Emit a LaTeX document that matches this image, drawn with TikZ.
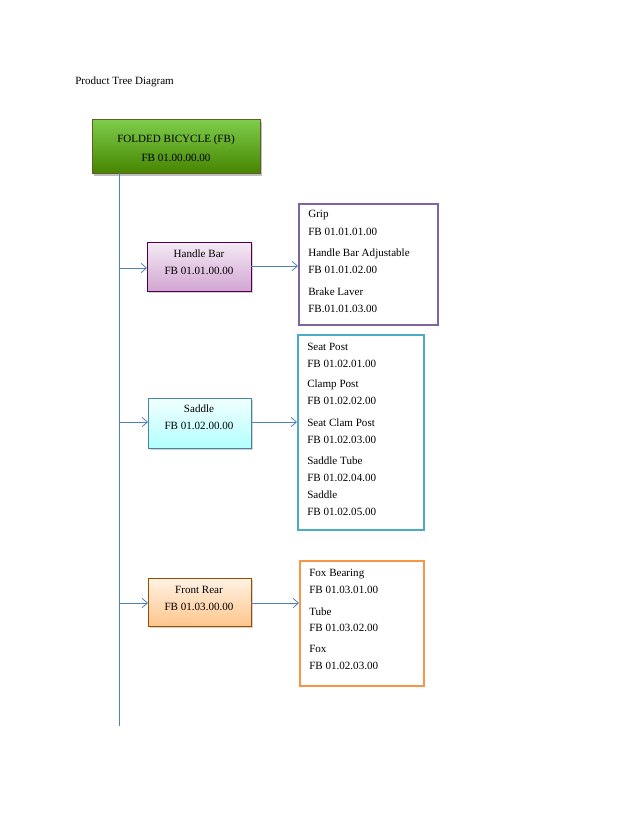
\documentclass[tikz,border=0pt]{standalone}
\usepackage{fontspec}
\setmainfont{Liberation Serif}
\usetikzlibrary{arrows.meta,shadows}
\definecolor{ln}{HTML}{4F81BD}
\definecolor{cpur}{RGB}{128,100,162}
\definecolor{ccya}{RGB}{75,172,198}
\definecolor{cora}{RGB}{247,150,70}
\begin{document}
\begin{tikzpicture}[x=0.75pt,y=-0.75pt,
  txt/.style={font=\fontsize{8.3}{10}\selectfont,inner sep=0pt},
  conn/.style={draw=ln,line width=0.6pt},
  arr/.style={conn,-{Straight Barb[length=4pt,width=7pt]}},
  mid/.style={draw=#1!60!black,line width=0.5pt,drop shadow={opacity=0.35,shadow xshift=1.5pt,shadow yshift=-1.5pt}},
  list/.style={draw=#1,line width=1.3pt,fill=white}]
\useasboundingbox (0,0) rectangle (638,826);
\node[txt,anchor=west] (title) at (75,82) {Product Tree Diagram};
% root
\fill[black!25] (94,122) rectangle (262,176);
\shade[top color=green!45!olive!70!white,bottom color=olive!70!green!80!black,draw=olive!60!black] (92,119) rectangle (260,173);
\node[txt] (r1) at (176,140) {FOLDED BICYCLE (FB)};
\node[txt] (r2) at (176,158) {FB 01.00.00.00};
\coordinate (root) at (119,173);
\coordinate (trunk) at (119,726);
\draw[conn] (root) -- (trunk);
% handle bar
\shade[mid=violet,top color=violet!8,bottom color=violet!35] (147,242) rectangle (251,291);
\node[txt] (hb1) at (199,254) {Handle Bar};
\node[txt] (hb2) at (199,271) {FB 01.01.00.00};
\coordinate (hbl) at (147,268); \coordinate (tr1) at (119,268);
\draw[arr] (tr1) -- (hbl);
\coordinate (hbr) at (251,266); \coordinate (b1l) at (298,266);
\draw[arr] (hbr) -- (b1l);
\draw[list=cpur] (299,204) rectangle (438,325);
\foreach \n/\y/\t in {a/215/Grip,b/232/FB 01.01.01.00,c/254/Handle Bar Adjustable,d/270/FB 01.01.02.00,e/292/Brake Laver,f/309/FB.01.01.03.00}
  \node[txt,anchor=west] (l1\n) at (308,\y) {\t};
% saddle
\shade[mid=cyan,top color=cyan!5,bottom color=cyan!30] (148,398) rectangle (251,448);
\node[txt] (s1) at (199,409) {Saddle};
\node[txt] (s2) at (199,426) {FB 01.02.00.00};
\coordinate (sl) at (148,422); \coordinate (tr2) at (119,422);
\draw[arr] (tr2) -- (sl);
\coordinate (sr) at (251,422); \coordinate (b2l) at (297,422);
\draw[arr] (sr) -- (b2l);
\draw[list=ccya] (298,335) rectangle (424,530);
\foreach \n/\y/\t in {a/347/Seat Post,b/364/FB 01.02.01.00,c/385/Clamp Post,d/401/FB 01.02.02.00,e/423/Seat Clam Post,f/440/FB 01.02.03.00,g/461/Saddle Tube,h/478/FB 01.02.04.00,i/495/Saddle,j/512/FB 01.02.05.00}
  \node[txt,anchor=west] (l2\n) at (307,\y) {\t};
% front rear
\shade[mid=orange,top color=orange!10,bottom color=orange!45] (148,578) rectangle (251,626);
\node[txt] (f1) at (199,590) {Front Rear};
\node[txt] (f2) at (199,607) {FB 01.03.00.00};
\coordinate (fl) at (148,603); \coordinate (tr3) at (119,603);
\draw[arr] (tr3) -- (fl);
\coordinate (fr) at (251,603); \coordinate (b3l) at (299,603);
\draw[arr] (fr) -- (b3l);
\draw[list=cora] (300,561) rectangle (424,686);
\foreach \n/\y/\t in {a/574/Fox Bearing,b/590/FB 01.03.01.00,c/612/Tube,d/628/FB 01.03.02.00,e/649/Fox,f/666/FB 01.02.03.00}
  \node[txt,anchor=west] (l3\n) at (309,\y) {\t};
\end{tikzpicture}
\end{document}
